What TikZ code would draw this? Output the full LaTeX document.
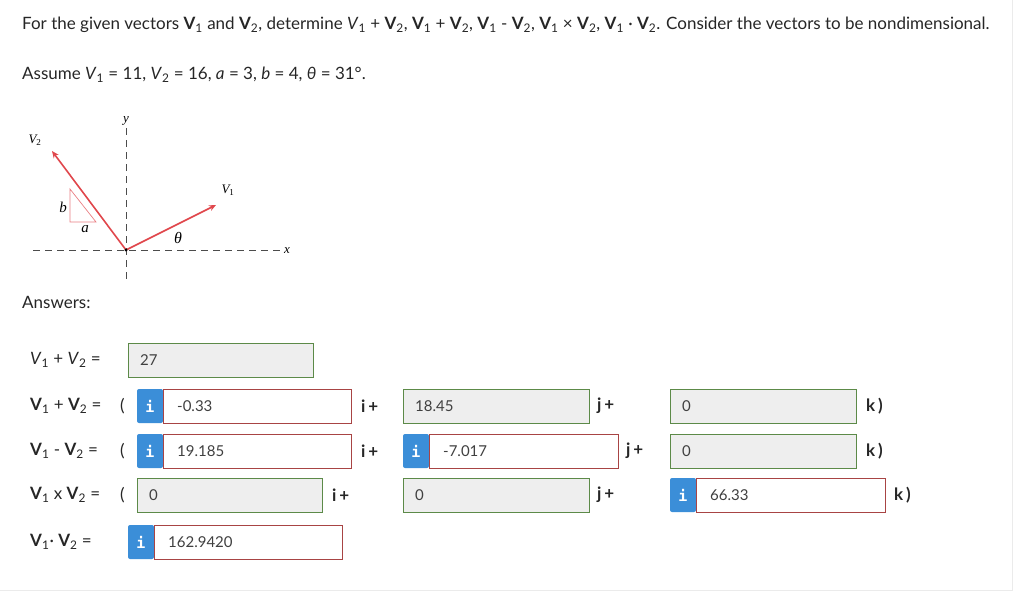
\documentclass[tikz,border=0pt]{standalone}
\usepackage{fontspec}
\setmainfont{Lato}
\newfontfamily\serifit{Liberation Serif}
\newfontfamily\monob{DejaVu Sans Mono}
\usetikzlibrary{arrows.meta}
\definecolor{vred}{HTML}{E0474C}
\definecolor{iblue}{HTML}{3B8ED8}
\definecolor{gbord}{HTML}{5C8A48}
\definecolor{rbord}{HTML}{A84444}
\definecolor{gfill}{HTML}{EEEEEE}
\newcommand{\sbs}[1]{\textsubscript{\normalfont #1}}
\newcommand{\Vb}[1]{\textbf{V}\sbs{#1}}
\newcommand{\Vi}[1]{\textit{V}\sbs{#1}}
\begin{document}
\begin{tikzpicture}[x=1pt,y=-1pt,
  txt/.style={anchor=west,inner sep=0pt,font=\fontsize{17}{20}\selectfont,text=black!85},
  lab/.style={anchor=west,inner sep=0pt,font=\fontsize{17}{20}\selectfont,text=black!85},
  val/.style={anchor=west,inner sep=0pt,font=\fontsize{15}{17}\selectfont,text=black!75},
  dia/.style={inner sep=0pt,font=\serifit\itshape\fontsize{13}{14}\selectfont},
  vec/.style={vred,line width=1.6pt,-{Stealth[length=7pt,width=6pt]}},
  axis/.style={black!70,dash pattern=on 7pt off 5pt,line width=0.8pt}]
\useasboundingbox (0,0) rectangle (1024,602);
\draw[black!8,line width=1pt] (1012,0) -- (1012,590) -- (0,590);
\node[txt] (h1) at (22,25) {For the given vectors \Vb1 and \Vb2, determine \Vi1 + \Vb2, \Vb1 + \Vb2, \Vb1 - \Vb2, \Vb1 × \Vb2, \Vb1 · \Vb2. Consider the vectors to be nondimensional.};
\node[txt] (h2) at (22,75) {Assume \Vi1 = 11, \Vi2 = 16, \textit{a} = 3, \textit{b} = 4, \textit{θ} = 31°.};
% diagram
\coordinate (O) at (126,250);
\coordinate (ytop) at (126,128);
\coordinate (ybot) at (126,282);
\coordinate (xl) at (33,250);
\coordinate (xr) at (282,250);
\draw[axis] (ytop) -- (ybot);
\draw[axis] (xl) -- (xr);
\draw[vec] (O) -- (52,151) coordinate (v2);
\draw[vec] (O) -- (216,205) coordinate (v1);
\draw[vred!70,line width=0.7pt] (70,189) -- (70,222) -- (96,222) -- cycle;
\fill (O) circle (1.6pt);
\node[dia] (ly) at (126,121) {y};
\node[dia] (lx) at (287,251) {x};
\node[dia] (lv2) at (35,140) {V\textsubscript{\upshape 2}};
\node[dia] (lv1) at (228,190) {V\textsubscript{\upshape 1}};
\node[dia,font=\serifit\itshape\fontsize{15}{15}\selectfont] (lb) at (63,207) {b};
\node[dia,font=\serifit\itshape\fontsize{15}{15}\selectfont] (la) at (85,229) {a};
\node[dia,font=\serifit\itshape\fontsize{16}{16}\selectfont] (lt) at (178,238) {θ};
\node[txt] (ans) at (22,302) {Answers:};
% labels
\node[lab] (r1) at (30,360) {\Vi1 + \Vi2 =};
\node[lab] (r2) at (30,406) {\Vb1 + \Vb2 =};
\node[lab] (r3) at (30,451) {\Vb1 - \Vb2 =};
\node[lab] (r4) at (30,495) {\Vb1 x \Vb2 =};
\node[lab] (r5) at (30,542) {\Vb1· \Vb2 =};
% boxes
\newcommand{\gbox}[4]{\draw[gbord,fill=gfill,line width=0.8pt] (#1,#3-17) rectangle (#2,#3+17); \node[val] at (#1+12,#3) {#4};}
\newcommand{\rbox}[4]{\fill[iblue,rounded corners=2pt] (#1,#3-17) rectangle (#1+26,#3+17);
 \node[inner sep=0pt,text=white,font=\monob\bfseries\fontsize{15}{15}\selectfont] at (#1+13,#3) {i};
 \draw[rbord,fill=white,line width=0.8pt] (#1+26,#3-17) rectangle (#2,#3+17); \node[val] at (#1+40,#3) {#4};}
\newcommand{\tx}[3]{\node[lab,font=\fontsize{17}{20}\selectfont\bfseries] at (#1,#2) {#3};}
\gbox{128}{313}{360}{27}
\tx{120}{406}{\mdseries(} \rbox{137}{351}{406}{-0.33} \tx{361}{406}{i\,+}
\gbox{403}{589}{406}{18.45} \tx{597}{406}{j\,+}
\gbox{670}{856}{406}{0} \tx{866}{406}{k\,)}
\tx{120}{451}{\mdseries(} \rbox{137}{351}{451}{19.185} \tx{361}{451}{i\,+}
\rbox{403}{618}{451}{-7.017} \tx{626}{451}{j\,+}
\gbox{670}{856}{451}{0} \tx{866}{451}{k\,)}
\tx{120}{495}{\mdseries(} \gbox{137}{322}{495}{0} \tx{332}{495}{i\,+}
\gbox{403}{589}{495}{0} \tx{597}{495}{j\,+}
\rbox{670}{885}{495}{66.33} \tx{894}{495}{k\,)}
\rbox{128}{342}{542}{162.9420}
\end{tikzpicture}
\end{document}
